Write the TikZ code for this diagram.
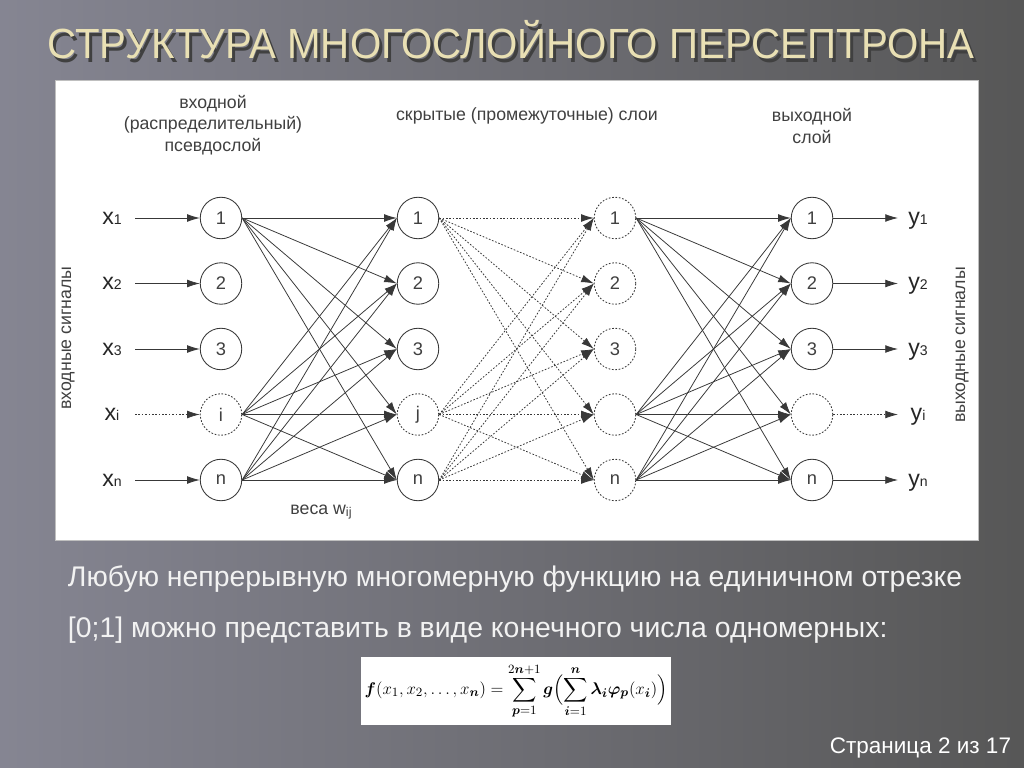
\documentclass[tikz,border=0pt]{standalone}
\usepackage{amsmath,bm}
\usepackage{fontspec}
\setmainfont{Liberation Sans}
\usetikzlibrary{arrows.meta}
\definecolor{netline}{HTML}{383838}
\definecolor{nettext}{HTML}{404040}
\definecolor{titlegold}{HTML}{E9E0B4}
\tikzset{
  neuron/.style={circle,draw=netline,line width=0.6pt,fill=white,minimum size=29.5pt,inner sep=0pt,
    text=nettext,font=\fontsize{13}{15}\selectfont},
  dneuron/.style={neuron,dash pattern=on 1.2pt off 1.2pt},
  wire/.style={draw=netline,line width=0.55pt,-{Latex[length=9pt,width=5.5pt]}},
  dwire/.style={wire,dash pattern=on 1.2pt off 1.2pt},
  caption/.style={text=nettext,font=\fontsize{12.6}{15.5}\selectfont,align=center},
  sigtext/.style={text=black!85,anchor=base}
}
\newcommand{\sig}[2]{{\fontsize{16.5}{16}\selectfont #1}{\fontsize{10}{10}\selectfont #2}}
\begin{document}
\begin{tikzpicture}[x=0.025cm,y=-0.025cm]
  \useasboundingbox (0,0) rectangle (1024,768);
  \shade[left color=black!45!white!95!blue, right color=black!66] (0,0) rectangle (1024,768);
  % title
  \node[text=black!75,font=\fontsize{30}{30}\selectfont,xscale=0.955] at (514,44) {СТРУКТУРА МНОГОСЛОЙНОГО ПЕРСЕПТРОНА};
  \node[text=titlegold,font=\fontsize{30}{30}\selectfont,xscale=0.955] (title) at (511,40) {СТРУКТУРА МНОГОСЛОЙНОГО ПЕРСЕПТРОНА};
  % panel
  \fill[white,draw=black!25] (55,80) rectangle (978,540);
  % layers
  \foreach \k/\lab/\sty in {1/1/neuron,2/2/neuron,3/3/neuron,4/i/dneuron,5/n/neuron}
    \node[\sty] (a\k) at (221,{218+65.5*(\k-1)}) {\lab};
  \foreach \k/\lab/\sty in {1/1/neuron,2/2/neuron,3/3/neuron,4/j/dneuron,5/n/neuron}
    \node[\sty] (b\k) at (418,{218+65.5*(\k-1)}) {\lab};
  \foreach \k/\lab in {1/1,2/2,3/3,4/{},5/n}
    \node[dneuron] (c\k) at (615,{218+65.5*(\k-1)}) {\lab};
  \foreach \k/\lab/\sty in {1/1/neuron,2/2/neuron,3/3/neuron,4/{}/dneuron,5/n/neuron}
    \node[\sty] (d\k) at (812,{218+65.5*(\k-1)}) {\lab};
  % inputs and outputs
  \foreach \k/\sub/\sty in {1/1/wire,2/2/wire,3/3/wire,4/i/dwire,5/n/wire}{
    \node[sigtext] (x\k) at (112,{224+65.5*(\k-1)}) {\sig{x}{\sub}};
    \coordinate (xin\k) at (135,{218+65.5*(\k-1)});
    \draw[\sty] (xin\k) -- (a\k.west);
    \node[sigtext] (y\k) at (918,{224+65.5*(\k-1)}) {\sig{y}{\sub}};
    \coordinate (yout\k) at (898,{218+65.5*(\k-1)});
    \draw[\sty] (d\k.east) -- (yout\k);
  }
  % connections
  \foreach \s in {1,4,5}
    \foreach \t in {1,...,5}{
      \draw[wire] (a\s.east) -- (b\t.west);
      \draw[dwire] (b\s.east) -- (c\t.west);
      \draw[wire] (c\s.east) -- (d\t.west);
    }
  % captions
  \node[caption] (incap) at (213,125) {входной\\(распределительный)\\псевдослой};
  \node[caption] (hidcap) at (527,116) {скрытые (промежуточные) слои};
  \node[caption] (outcap) at (812,126) {выходной\\слой};
  \node[caption] (weights) at (321,512) {веса w\raisebox{-0.3ex}{\fontsize{9}{9}\selectfont ij}};
  \node[caption,rotate=90] (insig) at (68,338) {входные сигналы};
  \node[caption,rotate=90] (outsig) at (962,345) {выходные сигналы};
  % text
  \node[anchor=west,text=white!95!black,font=\fontsize{20.2}{24}\selectfont] (line1) at (63,579) {Любую непрерывную многомерную функцию на единичном отрезке};
  \node[anchor=west,text=white!95!black,font=\fontsize{20.2}{24}\selectfont] (line2) at (63,630) {[0;1] можно представить в виде конечного числа одномерных:};
  \node[fill=white,minimum width=221pt,minimum height=49pt,inner sep=0pt,font=\fontsize{12.5}{14}\selectfont] (formula) at (516,691)
    {$\bm{f}(x_1,x_2,\ldots,x_{\bm{n}})=\displaystyle\sum_{\bm{p}=1}^{2\bm{n}+1}\bm{g}\Bigl(\sum_{\bm{i}=1}^{\bm{n}}\bm{\lambda_i\varphi_p}(x_{\bm{i}})\Bigr)$};
  \node[anchor=east,text=white,font=\fontsize{16}{18}\selectfont] (page) at (1016,748) {Страница 2 из 17};
\end{tikzpicture}
\end{document}
